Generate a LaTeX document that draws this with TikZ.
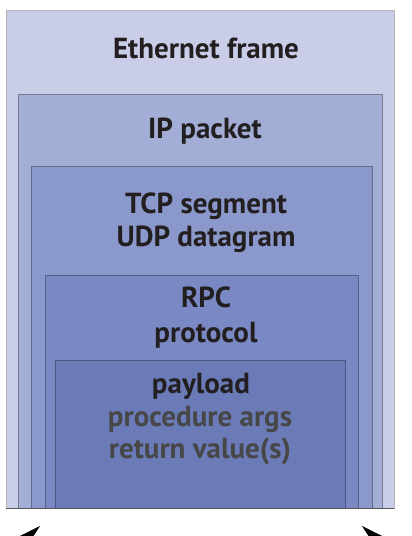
\documentclass[tikz,border=0pt]{standalone}
\usepackage{fontspec}
\setmainfont{PT Sans}
\usetikzlibrary{arrows.meta}

\definecolor{ethfill}{HTML}{C9CDE8}
\definecolor{ipfill}{HTML}{A3AED6}
\definecolor{tcpfill}{HTML}{8B98CB}
\definecolor{rpcfill}{HTML}{7A88C3}
\definecolor{payfill}{HTML}{6A7BB8}
\definecolor{inkdark}{HTML}{231F20}
\definecolor{inkgray}{HTML}{474747}

\begin{document}
\begin{tikzpicture}[x=1pt,y=-1pt,
  layer/.style={fill=#1,draw=#1!70!black,line width=0.8pt},
  lbl/.style={font=\bfseries\fontsize{29}{34}\selectfont,text=inkdark,inner sep=0pt,anchor=base},
  sub/.style={lbl,text=inkgray}]
\useasboundingbox (0,0) rectangle (412,536);
\clip (0,0) rectangle (412,536);

% nested wrappers
\draw[layer=ethfill,draw=black!30] (6,10) rectangle (394,508);
\draw[layer=ipfill] (18,94) rectangle (382,508);
\draw[layer=tcpfill] (31,166) rectangle (372,508);
\draw[layer=rpcfill] (45,275) rectangle (358,508);
\draw[layer=payfill] (55,360) rectangle (345,508);
\draw[black!65,line width=0.8pt] (6,508) -- (394,508);

% labels
\node[lbl] (eth) at (206,58) {Ethernet frame};
\node[lbl] (ip) at (205,138) {IP packet};
\node[lbl] (tcp) at (206,213) {TCP segment};
\node[lbl] (udp) at (206,246) {UDP datagram};
\node[lbl] (rpc) at (206,307) {RPC};
\node[lbl] (proto) at (206,342) {protocol};
\node[lbl] (pay) at (201,393) {payload};
\node[sub] (args) at (200,426) {procedure args};
\node[sub] (ret) at (200,458) {return value(s)};

% width arrow, mostly below the page
\coordinate (wl) at (14,539);
\coordinate (wr) at (388,539);
\draw[line width=1.5pt,{Stealth[length=26pt,width=26pt]}-{Stealth[length=26pt,width=26pt]}] (wl) -- (wr);
\end{tikzpicture}
\end{document}
